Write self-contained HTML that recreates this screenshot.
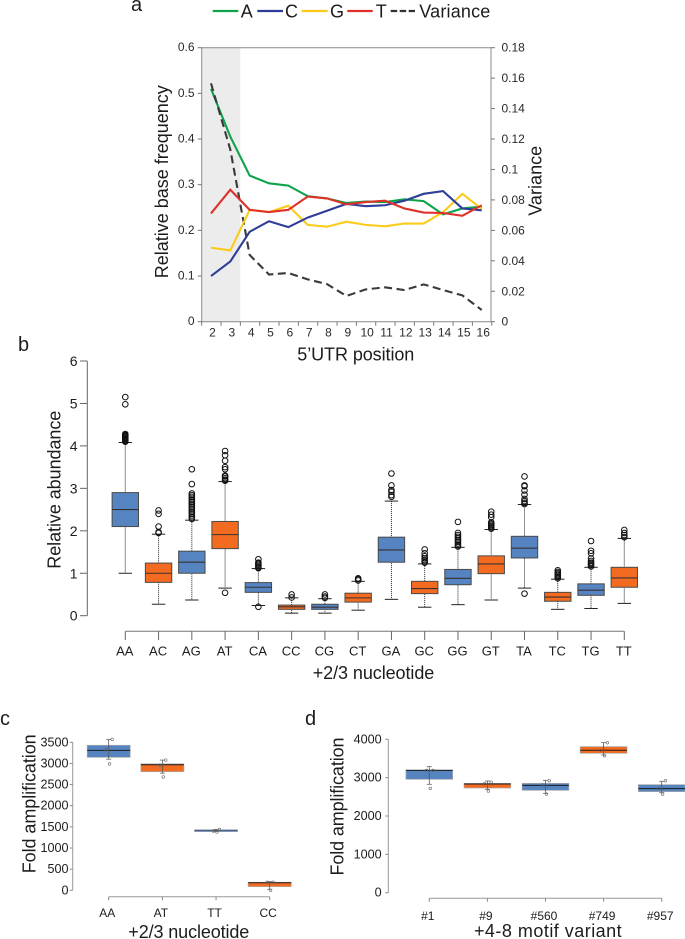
<!DOCTYPE html>
<html lang="en">
<head>
<meta charset="utf-8">
<title>Base frequency and amplification charts</title>
<style>
html,body{margin:0;padding:0;background:#fff;}
svg{display:block;font-family:"Liberation Sans",sans-serif;filter:blur(0.35px);}
text{fill:#1c1c1c;}
</style>
</head>
<body>
<svg id="fig" width="685" height="939" viewBox="0 0 685 939" xmlns="http://www.w3.org/2000/svg">
  <text x="131" y="11" font-size="20">a</text>
  <text x="18" y="351" font-size="20">b</text>
  <text x="0" y="725" font-size="20">c</text>
  <text x="305" y="725" font-size="20">d</text>

  <g font-size="18">
    <line x1="212.7" x2="238.3" y1="11" y2="11" stroke="#0ca34a" stroke-width="2.2"/>
    <text x="240.7" y="17.5">A</text>
    <line x1="257.3" x2="283" y1="11" y2="11" stroke="#2e3d97" stroke-width="2.2"/>
    <text x="285" y="17.5">C</text>
    <line x1="301.7" x2="327.7" y1="11" y2="11" stroke="#fbcb1a" stroke-width="2.2"/>
    <text x="330" y="17.5">G</text>
    <line x1="347.3" x2="372.7" y1="11" y2="11" stroke="#e0302a" stroke-width="2.2"/>
    <text x="375.7" y="17.5">T</text>
    <line x1="390.7" x2="415" y1="11" y2="11" stroke="#333" stroke-width="2.2" stroke-dasharray="6.5 2.5"/>
    <text x="419.3" y="17.5" textLength="71">Variance</text>
  </g>

  <g id="panel-a"></g>
  <g id="panel-b"></g>
  <g id="panel-c"></g>
  <g id="panel-d"></g>

  <text font-size="18" text-anchor="middle" textLength="193" transform="translate(168,181.7) rotate(-90)">Relative base frequency</text>
  <text font-size="18" text-anchor="middle" textLength="70" transform="translate(541.5,180.8) rotate(-90)">Variance</text>
  <text font-size="18" text-anchor="middle" textLength="117" x="355.8" y="360.5">5’UTR position</text>
  <text font-size="18" text-anchor="middle" textLength="158" transform="translate(60.5,489.7) rotate(-90)">Relative abundance</text>
  <text font-size="18" text-anchor="middle" textLength="121.6" x="373.5" y="679">+2/3 nucleotide</text>
  <text font-size="18" text-anchor="middle" textLength="139" transform="translate(35.5,803.8) rotate(-90)">Fold amplification</text>
  <text font-size="18" text-anchor="middle" textLength="121" x="188.8" y="938">+2/3 nucleotide</text>
  <text font-size="18" text-anchor="middle" textLength="138" transform="translate(343.5,806.5) rotate(-90)">Fold amplification</text>
  <text font-size="18" text-anchor="middle" textLength="147.7" x="547.8" y="937">+4-8 motif variant</text>
</svg>

<script>
// ---------- Panel a data ----------
const positions = ['2','3','4','5','6','7','8','9','10','11','12','13','14','15','16'];
const seriesA = [0.51,0.405,0.32,0.303,0.298,0.275,0.27,0.26,0.263,0.262,0.268,0.264,0.235,0.248,0.252];
const seriesC = [0.1,0.132,0.197,0.22,0.207,0.228,0.243,0.258,0.253,0.255,0.265,0.28,0.286,0.248,0.244];
const seriesG = [0.162,0.156,0.245,0.24,0.254,0.212,0.208,0.219,0.212,0.209,0.215,0.215,0.24,0.28,0.247];
const seriesT = [0.237,0.289,0.245,0.24,0.245,0.274,0.27,0.257,0.262,0.265,0.248,0.239,0.238,0.232,0.255];
const seriesVariance = [0.1566,0.113,0.0438,0.031,0.032,0.0278,0.0247,0.0169,0.0212,0.0226,0.0208,0.0245,0.0208,0.0173,0.0077];
const leftTicks = ['0','0.1','0.2','0.3','0.4','0.5','0.6'];
const rightTicks = ['0','0.02','0.04','0.06','0.08','0.1','0.12','0.14','0.16','0.18'];

// ---------- Panel b data ----------
const dinucleotides = ['AA','AC','AG','AT','CA','CC','CG','CT','GA','GC','GG','GT','TA','TC','TG','TT'];
const abundanceTicks = ['0','1','2','3','4','5','6'];
const abundanceQ1 = [2.1,0.785,1.0,1.58,0.55,0.15,0.15,0.32,1.26,0.52,0.73,0.99,1.36,0.34,0.48,0.67];
const abundanceMedian = [2.5,1.0,1.26,1.91,0.67,0.21,0.2,0.42,1.55,0.64,0.88,1.22,1.59,0.44,0.6,0.89];
const abundanceQ3 = [2.9,1.24,1.52,2.22,0.78,0.25,0.27,0.53,1.85,0.81,1.09,1.41,1.87,0.55,0.75,1.14];
const abundanceLow = [1.0,0.27,0.37,0.65,0.24,0.06,0.06,0.13,0.385,0.2,0.26,0.37,0.65,0.15,0.17,0.29];
const abundanceHigh = [4.08,1.92,2.25,3.16,1.11,0.42,0.4,0.81,2.7,1.22,1.61,2.03,2.62,0.86,1.14,1.82];
const abundanceOutliers = [
  [4.1,4.12,4.14,4.16,4.18,4.2,4.22,4.24,4.26,4.28,4.98,5.15],
  [1.95,1.97,2.1,2.4,2.48],
  [2.28,2.32,2.36,2.4,2.44,2.48,2.52,2.56,2.6,2.64,2.68,2.72,2.76,2.8,2.84,2.88,3.1,3.45],
  [0.54,3.18,3.2,3.24,3.28,3.3,3.45,3.5,3.65,3.78,3.88],
  [0.21,1.12,1.14,1.17,1.2,1.23,1.25,1.33],
  [0.43,0.5],
  [0.42,0.45,0.5],
  [0.83,0.86,0.88],
  [2.8,2.84,2.92,2.96,3.07,3.35],
  [1.25,1.28,1.31,1.35,1.4,1.47,1.56],
  [1.63,1.66,1.7,1.74,1.78,1.82,1.86,1.9,1.95,2.21],
  [2.05,2.08,2.11,2.14,2.17,2.2,2.32,2.38,2.45],
  [0.52,2.63,2.66,2.7,2.75,2.85,2.95,3.05,3.07,3.28],
  [0.88,0.91,0.94,0.97,1.0,1.03,1.07],
  [1.16,1.19,1.22,1.25,1.29,1.35,1.47,1.53,1.76],
  [1.85,1.9,1.95,2.02]
];

// ---------- Panel c data ----------
const amplificationCats = ['AA','AT','TT','CC'];
const amplificationTicks = ['0','500','1000','1500','2000','2500','3000','3500'];
const amplificationQ1 = [3145,2805,1387,87];
const amplificationMedian = [3310,2970,1410,180];
const amplificationQ3 = [3430,2990,1434,190];
const amplificationLow = [3100,2770,1390,24];
const amplificationHigh = [3570,3080,1440,205];
const amplificationPoints = [[2990,3320,3570],[2680,2960,3080],[1380,1400,1440],[0,190,190]];

// ---------- Panel d data ----------
const motifCats = ['#1','#9','#560','#749','#957'];
const motifTicks = ['0','1000','2000','3000','4000'];
const motifQ1 = [2957,2730,2670,3635,2635];
const motifMedian = [3190,2835,2800,3713,2713];
const motifQ3 = [3200,2852,2852,3809,2817];
const motifLow = [2826,2696,2590,3590,2608];
const motifHigh = [3287,2913,2930,3913,2904];
const motifPoints = [[2720,3190,3190],[2650,2840,2880],[2570,2810,2920],[3570,3713,3910],[2570,2720,2920]];

const NS = 'http://www.w3.org/2000/svg';
const BLUE = '#5584c1', ORANGE = '#f26b21';

function make(tag, attrs, parent) {
  const el = document.createElementNS(NS, tag);
  for (const k in attrs) el.setAttribute(k, attrs[k]);
  parent.appendChild(el);
  return el;
}
function scale(d0, d1, r0, r1) {
  return function (v) { return r0 + (v - d0) * (r1 - r0) / (d1 - d0); };
}

// ---------- Panel a ----------
(function () {
  const g = document.getElementById('panel-a');
  const left = 201.7, right = 491, top = 47.7, bottom = 321.7;
  const yL = scale(0, 0.6, bottom, top);
  const yR = scale(0, 0.18, bottom, top);
  const x = scale(0, positions.length - 1, 211, 481.7);
  const step = (481.7 - 211) / (positions.length - 1);

  const shade = make('rect', {x: left, y: top, width: 38.6, height: bottom - top, fill: '#ececed'}, g);
  
  

  const frame = make('path', {d: 'M' + left + ' ' + top + 'H' + right + 'V' + bottom + 'H' + left + 'Z', fill: 'none', stroke: '#8a8a8a', 'stroke-width': 1}, g);
  
  

  leftTicks.forEach(function (t) {
    const y = yL(parseFloat(t));
    const tick = make('line', {x1: left - 4, x2: left, y1: y, y2: y, stroke: '#777', 'stroke-width': 1}, g);
    
    
    const lab = make('text', {x: 194.5, y: y - 0.5, 'font-size': 12, 'text-anchor': 'end', 'dominant-baseline': 'central', style: 'fill:#2a2a2a'}, g);
    lab.textContent = t;
    
    
  });
  rightTicks.forEach(function (t) {
    const y = yR(parseFloat(t));
    const tick = make('line', {x1: right, x2: right + 4, y1: y, y2: y, stroke: '#777', 'stroke-width': 1}, g);
    
    
    const lab = make('text', {x: 501.5, y: y, 'font-size': 12, 'dominant-baseline': 'central', style: 'fill:#2a2a2a'}, g);
    lab.textContent = t;
    
    
  });
  for (let i = 0; i <= positions.length; i++) {
    const tx = left + i * step;
    const tick = make('line', {x1: tx, x2: tx, y1: bottom, y2: bottom + 4, stroke: '#777', 'stroke-width': 1}, g);
    
    
  }
  positions.forEach(function (p, i) {
    const lab = make('text', {x: x(i) + 1.5, y: 332.5, 'font-size': 12, 'text-anchor': 'middle', 'dominant-baseline': 'central', style: 'fill:#2a2a2a'}, g);
    lab.textContent = p;
    
    
  });

  function pts(arr, sy) {
    return arr.map(function (v, i) { return x(i).toFixed(2) + ',' + sy(v).toFixed(2); }).join(' ');
  }
  const lineA = make('polyline', {points: pts(seriesA, yL), fill: 'none', stroke: '#0ca34a', 'stroke-width': 2.1}, g);
  
  
  const lineV = make('polyline', {points: pts(seriesVariance, yR), fill: 'none', stroke: '#3a3a3a', 'stroke-width': 2.1, 'stroke-dasharray': '8 4.5'}, g);
  
  
  const lineG = make('polyline', {points: pts(seriesG, yL), fill: 'none', stroke: '#fbcb1a', 'stroke-width': 2.1}, g);
  
  
  const lineC = make('polyline', {points: pts(seriesC, yL), fill: 'none', stroke: '#2e3d97', 'stroke-width': 2.1}, g);
  
  
  const lineT = make('polyline', {points: pts(seriesT, yL), fill: 'none', stroke: '#e0302a', 'stroke-width': 2.1}, g);
  
  
})();

// ---------- Panel b ----------
(function () {
  const g = document.getElementById('panel-b');
  const y = scale(0, 6, 615.7, 361);
  const x = scale(0, dinucleotides.length - 1, 125.3, 624.3);
  const axisX = 87.3, axisY = 631.3, bw = 26.4;

  const yAxis = make('line', {x1: axisX, x2: axisX, y1: y(6), y2: y(0), stroke: '#666', 'stroke-width': 1}, g);
  
  
  abundanceTicks.forEach(function (t) {
    const v = parseFloat(t);
    const tick = make('line', {x1: 80, x2: axisX, y1: y(v), y2: y(v), stroke: '#666', 'stroke-width': 1}, g);
    
    
    const lab = make('text', {x: 77.5, y: y(v), 'font-size': 14, 'text-anchor': 'end', 'dominant-baseline': 'central'}, g);
    lab.textContent = t;
    
    
  });
  const xAxis = make('line', {x1: x(0), x2: x(dinucleotides.length - 1), y1: axisY, y2: axisY, stroke: '#777', 'stroke-width': 1}, g);
  
  

  dinucleotides.forEach(function (c, i) {
    const cx = x(i);
    const fill = i % 2 === 0 ? BLUE : ORANGE;
    const tick = make('line', {x1: cx, x2: cx, y1: axisY, y2: 640, stroke: '#666', 'stroke-width': 1}, g);
    
    
    const lab = make('text', {x: cx - 0.5, y: 651, 'font-size': 13, 'text-anchor': 'middle', 'dominant-baseline': 'central'}, g);
    lab.textContent = c;
    
    

    const whisker = make('line', {x1: cx, x2: cx, y1: y(abundanceHigh[i]), y2: y(abundanceLow[i]), stroke: '#222', 'stroke-width': 1, 'stroke-dasharray': '1 1'}, g);
    
    
    [abundanceHigh[i], abundanceLow[i]].forEach(function (v) {
      const cap = make('line', {x1: cx - 6.7, x2: cx + 6.7, y1: y(v), y2: y(v), stroke: '#222', 'stroke-width': 1}, g);
      
      
    });
    abundanceOutliers[i].forEach(function (v) {
      const o = make('circle', {cx: cx, cy: y(v), r: 2.8, fill: 'none', stroke: '#111', 'stroke-width': 1}, g);
      
      
    });
    const box = make('rect', {x: cx - bw / 2, y: y(abundanceQ3[i]), width: bw, height: y(abundanceQ1[i]) - y(abundanceQ3[i]), fill: fill, stroke: '#4a4a4a', 'stroke-width': 1}, g);
    
    
    const med = make('line', {x1: cx - bw / 2, x2: cx + bw / 2, y1: y(abundanceMedian[i]), y2: y(abundanceMedian[i]), stroke: '#3a3030', 'stroke-width': 1.1}, g);
    
    
  });
})();

// ---------- Panels c & d shared drawing ----------
function drawBars(opts) {
  const g = opts.group, n = opts.cats.length;
  const y = scale(0, opts.maxTick, opts.y0, opts.yMax);
  const x = scale(0, n - 1, opts.x0, opts.x1);
  const jitter = [0.02, -0.06, 0.08];

  const yAxis = make('line', {x1: opts.axisX, x2: opts.axisX, y1: y(opts.maxTick), y2: y(0), stroke: '#999', 'stroke-width': 1}, g);
  
  
  opts.ticks.forEach(function (t) {
    const v = parseFloat(t);
    const tick = make('line', {x1: opts.axisX - 3, x2: opts.axisX, y1: y(v), y2: y(v), stroke: '#888', 'stroke-width': 1}, g);
    
    
    const lab = make('text', {x: opts.labelX, y: y(v), 'font-size': 12.6, 'text-anchor': 'end', 'dominant-baseline': 'central'}, g);
    lab.textContent = t;
    
    
  });
  const xAxis = make('line', {x1: x(0), x2: x(n - 1), y1: opts.axisY, y2: opts.axisY, stroke: '#999', 'stroke-width': 1}, g);
  
  

  opts.cats.forEach(function (c, i) {
    const cx = x(i), bw = opts.boxWidth;
    const fill = opts.orange.indexOf(i) >= 0 ? ORANGE : BLUE;
    const tick = make('line', {x1: cx, x2: cx, y1: opts.axisY, y2: opts.axisY + 3.5, stroke: '#888', 'stroke-width': 1}, g);
    
    
    const lab = make('text', {x: cx - 1.5, y: opts.labelY, 'font-size': 12, 'text-anchor': 'middle', 'dominant-baseline': 'central'}, g);
    lab.textContent = c;
    
    

    const boxHeight = y(opts.q1[i]) - y(opts.q3[i]);
    const box = make('rect', {x: cx - bw / 2, y: y(opts.q3[i]), width: bw, height: boxHeight, fill: fill, stroke: '#a9a9a9', 'stroke-width': 0.7}, g);
    
    
    // very thin boxes show a muted median rather than a black one
    const med = make('line', {x1: cx - bw / 2, x2: cx + bw / 2, y1: y(opts.med[i]), y2: y(opts.med[i]), stroke: boxHeight < 3 ? '#3f5f90' : '#1c1c1c', 'stroke-width': 1}, g);
    
    
    const whisker = make('line', {x1: cx, x2: cx, y1: y(opts.high[i]), y2: y(opts.low[i]), stroke: '#555', 'stroke-width': 0.8}, g);
    
    
    [opts.high[i], opts.low[i]].forEach(function (v) {
      const cap = make('line', {x1: cx - 2.5, x2: cx + 2.5, y1: y(v), y2: y(v), stroke: '#666', 'stroke-width': 0.8}, g);
      
      
    });
    opts.points[i].forEach(function (v, j) {
      const p = make('circle', {cx: cx + jitter[j] * bw, cy: y(v), r: 1.3, fill: 'none', stroke: '#666', 'stroke-width': 0.6}, g);
      
      
    });
  });
}

drawBars({
  group: document.getElementById('panel-c'),
  cats: amplificationCats, ticks: amplificationTicks, maxTick: 3500,
  q1: amplificationQ1, med: amplificationMedian, q3: amplificationQ3,
  low: amplificationLow, high: amplificationHigh, points: amplificationPoints,
  y0: 890.3, yMax: 742.3, x0: 108.7, x1: 269.7, axisX: 72.7, axisY: 896.7,
  labelX: 68.5, labelY: 913, boxWidth: 43, orange: [1, 3]
});
drawBars({
  group: document.getElementById('panel-d'),
  cats: motifCats, ticks: motifTicks, maxTick: 4000,
  q1: motifQ1, med: motifMedian, q3: motifQ3,
  low: motifLow, high: motifHigh, points: motifPoints,
  y0: 892.7, yMax: 739.3, x0: 429.3, x1: 661.7, axisX: 388.3, axisY: 898.3,
  labelX: 381.7, labelY: 916, boxWidth: 46.7, orange: [1, 3]
});
</script>
</body>
</html>
